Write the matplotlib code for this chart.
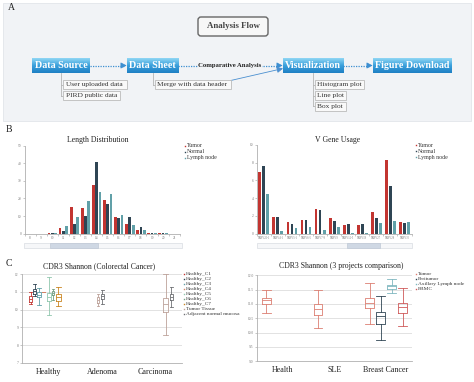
import numpy as np
import matplotlib
matplotlib.use("Agg")
import matplotlib.pyplot as plt
from matplotlib.patches import Rectangle, FancyBboxPatch
from matplotlib.colors import LinearSegmentedColormap

plt.rcParams["font.family"] = ["Liberation Serif", "DejaVu Serif"]

W, H = 474, 382

# ---- data ---------------------------------------------------------------
len_cats = [str(n) for n in range(8, 22)]
len_tumor = [0.1, 0.1, 0.3, 3.2, 15.2, 14.6, 27.5, 19.1, 9.3, 5.7, 2.3, 0.6, 0.2, 0.1]
len_normal = [0.0, 0.0, 0.3, 1.5, 5.3, 10.0, 40.9, 17.0, 9.1, 9.7, 4.0, 0.6, 0.2, 0.1]
len_lymph = [0.0, 0.1, 0.5, 4.4, 9.5, 18.8, 23.5, 22.5, 10.8, 4.9, 1.9, 0.6, 0.2, 0.1]

vgene_cats = ["TRBV20-1", "TRBV4-1", "TRBV5-1", "TRBV6-5", "TRBV7-9", "TRBV9",
              "TRBV12-3", "TRBV19", "TRBV27", "TRBV28", "TRBV30"]
vgene_tumor = [6.9, 1.85, 1.3, 1.6, 2.75, 1.75, 1.0, 1.0, 2.5, 8.35, 1.35]
vgene_normal = [7.65, 1.85, 1.1, 1.55, 2.7, 1.45, 1.1, 1.1, 1.75, 5.4, 1.25]
vgene_lymph = [4.5, 0.3, 0.6, 0.8, 0.4, 0.7, 0.05, 0.05, 1.2, 1.45, 1.35]
sample_names = ["Tumor", "Normal", "Lymph node"]

crc_groups = ["Healthy", "Adenoma", "Carcinoma"]
crc_series = ["Healthy_C1", "Healthy_C2", "Healthy_C3", "Healthy_C4", "Healthy_C5",
              "Healthy_C6", "Healthy_C7", "Tumor Tissue", "Adjacent normal mucosa"]
crc_box_series = [0, 1, 2, 3, 4, 5, 6, 7, 8, 7, 8]
crc_box_group = [0, 0, 0, 0, 0, 0, 0, 1, 1, 2, 2]
# whislo, q1, med, q3, whishi
crc_box_stats = [
    (10.30, 10.45, 10.62, 10.79, 11.02),
    (10.76, 10.89, 11.05, 11.19, 11.47),
    (10.28, 10.70, 10.85, 11.00, 11.23),
    (10.98, 10.99, 11.00, 11.01, 11.02),
    (9.68, 10.47, 10.72, 10.94, 11.83),
    (10.57, 10.85, 10.95, 11.04, 11.17),
    (10.19, 10.51, 10.70, 10.89, 11.27),
    (10.21, 10.36, 10.55, 10.74, 10.89),
    (10.30, 10.59, 10.75, 10.87, 11.11),
    (8.57, 9.89, 10.30, 10.68, 12.00),
    (10.17, 10.55, 10.70, 10.87, 11.27),
]

proj_groups = ["Health", "SLE", "Breast Cancer"]
proj_series = ["Tumor", "Peritumor", "Axillary Lymph node", "PBMC"]
proj_box_series = [0, 0, 0, 1, 2, 3]
proj_box_group = [0, 1, 2, 2, 2, 2]
proj_box_stats = [
    (10.70, 11.00, 11.13, 11.21, 11.50),
    (10.16, 10.63, 10.81, 10.99, 11.50),
    (10.31, 10.86, 11.03, 11.21, 11.73),
    (9.75, 10.31, 10.59, 10.71, 11.27),
    (11.38, 11.53, 11.62, 11.67, 11.88),
    (10.22, 10.70, 10.89, 11.04, 11.56),
]

# ---- layout / style -------------------------------------------------------
palette = ["#c23531", "#2f4554", "#61a0a8", "#d48265", "#91c7ae",
           "#749f83", "#ca8622", "#bda29a", "#6e7074"]
proj_colors = ["#dc7f72", "#2f4554", "#7fb7bf", "#cf5a5a"]
crc_offsets = [-0.34, -0.26, -0.18, -0.10, 0.0, 0.08, 0.18, -0.075, 0.006, 0.196, 0.30]
crc_widths = [0.055, 0.06, 0.06, 0.06, 0.075, 0.05, 0.09, 0.05, 0.06, 0.095, 0.06]
proj_offsets = [-0.32, -0.107, 0.107, 0.32]
AX_GRAY = "#b0b0b0"
TXT = "#333333"
BLUE = "#3d8fd1"


def px_axes(fig, x0, x1, y0, y1):
    return fig.add_axes([x0 / W, 1 - y1 / H, (x1 - x0) / W, (y1 - y0) / H],
                        facecolor="none", zorder=2)


def style_axes(ax):
    for s in ("top", "right"):
        ax.spines[s].set_visible(False)
    for s in ("left", "bottom"):
        ax.spines[s].set_color(AX_GRAY)
        ax.spines[s].set_linewidth(0.6)
    ax.tick_params(axis="y", labelsize=2.6, colors=AX_GRAY, labelcolor="#777777",
                   length=1.5, width=0.5, pad=1)


fig = plt.figure(figsize=(W / 100, H / 100), dpi=100)
ov = fig.add_axes([0, 0, 1, 1], zorder=0)
ov.set_xlim(0, W)
ov.set_ylim(H, 0)
ov.axis("off")

# ---- panel A: flow diagram ------------------------------------------------
ov.add_patch(Rectangle((3, 3), 468, 118, facecolor="#f1f3f6", edgecolor="#e2e5ea", lw=0.6))
ov.text(11, 7.5, "A", fontsize=7, ha="center", va="center", color="#222222")
ov.add_patch(FancyBboxPatch((198, 17), 70, 19, boxstyle="round,pad=0,rounding_size=3",
                            facecolor="#f7f7f7", edgecolor="#666666", lw=1.0))
ov.text(233, 26.5, "Analysis Flow", fontsize=6.4, fontweight="bold", ha="center",
        va="center", color="#444444")

blue_cmap = LinearSegmentedColormap.from_list("bb", ["#8fd6f4", "#3aa0dc", "#1f80c4"])
grad = np.linspace(0, 1, 32).reshape(-1, 1)
main_boxes = [("Data Source", 32.3, 90), ("Data Sheet", 126.7, 178.3),
              ("Visualization", 282.7, 343.3), ("Figure Download", 372.7, 451.7)]
for label, x0, x1 in main_boxes:
    ov.imshow(grad, extent=(x0, x1, 72.7, 58.3), cmap=blue_cmap, aspect="auto", zorder=3)
    ov.text((x0 + x1) / 2, 65.5, label, fontsize=7.2, fontweight="bold", color="white",
            ha="center", va="center", zorder=4)
ov.set_xlim(0, W)
ov.set_ylim(H, 0)


def flow_arrow(x0, x1, y):
    ov.plot([x0, x1 - 3], [y, y], ls=(0, (1, 1)), color=BLUE, lw=0.9, zorder=3)
    ov.annotate("", xy=(x1, y), xytext=(x1 - 4, y),
                arrowprops=dict(arrowstyle="-|>,head_length=0.35,head_width=0.18",
                                color=BLUE, lw=0.6, shrinkA=0, shrinkB=0), zorder=3)


flow_arrow(90, 126.7, 65.5)
flow_arrow(178.3, 282.7, 65.5)
flow_arrow(343.3, 372.7, 65.5)
ov.text(230, 65, "Comparative Analysis", fontsize=4.8, fontweight="bold", ha="center",
        va="center", color="#222222", zorder=4,
        bbox=dict(facecolor="#f1f3f6", edgecolor="none", pad=0.5))
ov.annotate("", xy=(283, 68.5), xytext=(230.7, 80.5),
            arrowprops=dict(arrowstyle="-|>,head_length=0.35,head_width=0.18",
                            color="#4a8fd0", lw=0.6, shrinkA=0, shrinkB=0), zorder=3)

child_boxes = [("User uploaded data", 63.3, 126.7, 80), ("PIRD public data", 63.3, 120, 91),
               ("Merge with data header", 155, 230.7, 80), ("Histogram plot", 315, 364.3, 80),
               ("Line plot", 315, 345.7, 91), ("Box plot", 315, 345.7, 101.7)]
for label, x0, x1, y0 in child_boxes:
    ov.add_patch(Rectangle((x0, y0), x1 - x0, 9.3, facecolor="#f9f9f9",
                           edgecolor="#bbbbbb", lw=0.6, zorder=3))
    ov.text(x0 + 2.5, y0 + 4.9, label, fontsize=5.3, ha="left", va="center",
            color=TXT, zorder=4)
for x, y_end in [(61.5, 95.6), (153.3, 84.6), (313.3, 106.3)]:
    ov.plot([x, x], [72.7, y_end], color="#b5b5b5", lw=0.6, zorder=2)
for x, y in [(61.5, 84.6), (61.5, 95.6), (153.3, 84.6), (313.3, 84.6), (313.3, 95.6),
             (313.3, 106.3)]:
    ov.plot([x, x + 2], [y, y], color="#b5b5b5", lw=0.6, zorder=2)

# ---- panel letters / titles ----------------------------------------------
ov.text(9, 129.5, "B", fontsize=7, ha="center", va="center", color="#222222")
ov.text(9, 263, "C", fontsize=7, ha="center", va="center", color="#222222")
ov.text(98, 140.5, "Length Distribution", fontsize=5.6, ha="center", va="center", color="#222222")
ov.text(338, 139.5, "V Gene Usage", fontsize=5.6, ha="center", va="center", color="#222222")
ov.text(99, 266.5, "CDR3 Shannon (Colorectal Cancer)", fontsize=5.6, ha="center",
        va="center", color="#222222")
ov.text(341, 266.5, "CDR3 Shannon (3 projects comparison)", fontsize=5.6, ha="center",
        va="center", color="#222222")


def legend(x, y0, step, names, colors, size=4.2):
    for i, (name, c) in enumerate(zip(names, colors)):
        y = y0 + i * step
        ov.plot([x], [y], marker="s", ms=1.0, color=c, mec="none", zorder=4)
        ov.text(x + 1.8, y, name, fontsize=size, ha="left", va="center", color=TXT)


legend(185, 145.7, 6.1, sample_names, palette[:3])
legend(416.5, 145.2, 6.1, sample_names, palette[:3])
legend(184, 274.3, 5.0, crc_series, palette, size=3.9)
legend(416, 274.3, 4.9, proj_series, proj_colors, size=3.9)

# ---- panel B: bar charts --------------------------------------------------
def bars(ax, cats, series, width, offset, ymax, step):
    x = np.arange(len(cats))
    for i, vals in enumerate(series):
        ax.bar(x + (i - 1) * offset, vals, width, color=palette[i], lw=0)
    ax.set_xlim(-0.5, len(cats) - 0.5)
    ax.set_ylim(0, ymax)
    ax.set_yticks(np.arange(0, ymax + 0.01, step))
    ax.set_xticks(x)
    ax.set_xticklabels(cats)
    ax.set_xticks(np.arange(-0.5, len(cats), 1), minor=True)
    ax.tick_params(axis="x", which="major", length=0, labelsize=2.4, labelcolor="#777777", pad=2)
    ax.tick_params(axis="x", which="minor", length=1.5, width=0.5, color=AX_GRAY)
    style_axes(ax)


axL = px_axes(fig, 24.6, 179.7, 145.7, 233.7)
bars(axL, len_cats, [len_tumor, len_normal, len_lymph], 0.25, 0.3, 50, 10)
axR = px_axes(fig, 256.8, 411.5, 145.0, 233.7)
bars(axR, vgene_cats, [vgene_tumor, vgene_normal, vgene_lymph], 0.2, 0.285, 10, 2)
axR.tick_params(axis="x", which="major", labelsize=2.0)

# data-zoom sliders under the bar charts
for x0, x1, h0, h1 in [(24, 181.7, 50, 97.7), (257, 412, 347, 380.3)]:
    ov.add_patch(Rectangle((x0, 243.3), x1 - x0, 5, facecolor="#f6f7f9",
                           edgecolor="#d8dce2", lw=0.5))
    ov.add_patch(Rectangle((h0, 243.3), h1 - h0, 5, facecolor="#cfd8e4",
                           edgecolor="#b8c3d1", lw=0.4))

# ---- panel C: box plots ---------------------------------------------------
def boxes(ax, groups, stats, gidx, sidx, positions, widths, colors, ylim, yticks):
    for st, g, s, pos, w in zip(stats, gidx, sidx, positions, widths):
        lo, q1, med, q3, hi = st
        c = colors[s]
        ax.bxp([dict(whislo=lo, q1=q1, med=med, q3=q3, whishi=hi, fliers=[])],
               positions=[g + pos], widths=[w], capwidths=[w], showfliers=False,
               boxprops=dict(color=c, lw=0.6), whiskerprops=dict(color=c, lw=0.6),
               capprops=dict(color=c, lw=0.6), medianprops=dict(color=c, lw=0.6),
               manage_ticks=False)
    ax.set_xlim(-0.5, len(groups) - 0.5)
    ax.set_ylim(*ylim)
    ax.set_yticks(yticks)
    ax.yaxis.grid(True, color="#dddddd", lw=0.6)
    ax.set_axisbelow(True)
    ax.set_xticks(range(len(groups)))
    ax.set_xticklabels(groups)
    ax.tick_params(axis="x", length=0, labelsize=5.8, labelcolor="#222222", pad=3.5)
    style_axes(ax)


axC1 = px_axes(fig, 22, 182, 274.3, 362.7)
boxes(axC1, crc_groups, crc_box_stats, crc_box_group, crc_box_series,
      crc_offsets, crc_widths, palette, (7, 12), np.arange(7, 12.01, 1))
axC2 = px_axes(fig, 257.2, 411.8, 275.3, 361.3)
boxes(axC2, proj_groups, proj_box_stats, proj_box_group, proj_box_series,
      [proj_offsets[s] for s in proj_box_series], [0.17] * len(proj_box_series),
      proj_colors, (9, 12), np.arange(9, 12.01, 0.5))

fig.savefig("out.png", dpi=100)
